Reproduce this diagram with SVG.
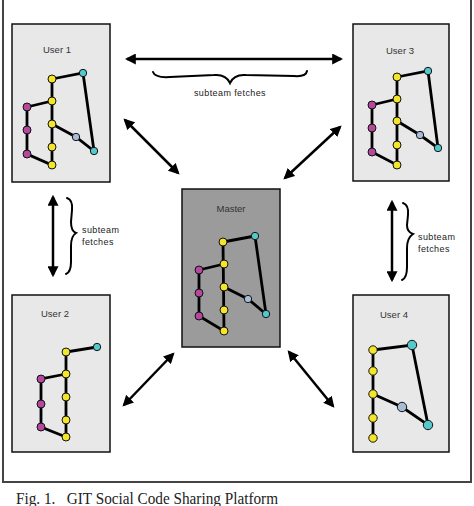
<svg xmlns="http://www.w3.org/2000/svg" width="474" height="506" viewBox="0 0 474 506">
<defs>
<style>
.box{fill:#e8e8e8;stroke:#111;stroke-width:1.5}
.mbox{fill:#9b9b9b;stroke:#111;stroke-width:1.5}
.lbl{font-family:"Liberation Sans",Arial,sans-serif;font-size:9.5px;fill:#333;text-anchor:middle}
.sub{font-family:"Liberation Sans",Arial,sans-serif;font-size:9px;fill:#222;letter-spacing:0.4px}
.e{stroke:#000;stroke-width:2.8;fill:none}
.y{fill:#f5e52a;stroke:#111;stroke-width:1}
.m{fill:#b5489c;stroke:#111;stroke-width:1}
.c{fill:#55c8cc;stroke:#111;stroke-width:1}
.b{fill:#a7bcd6;stroke:#111;stroke-width:1}
.arr{stroke:#000;stroke-width:2.5;fill:none;marker-start:url(#ah);marker-end:url(#ah)}
.brace{stroke:#000;stroke-width:2;fill:none;stroke-linecap:round}
</style>
<marker id="ah" viewBox="0 0 10 10" refX="8" refY="5" markerWidth="11" markerHeight="11" markerUnits="userSpaceOnUse" orient="auto-start-reverse">
<path d="M0,0 L10,5 L0,10 z" fill="#000"/>
</marker>
</defs>
<rect x="0" y="0" width="474" height="506" fill="#fff"/>
<rect x="3" y="-2" width="468" height="484" fill="#fff" stroke="#444" stroke-width="2"/>

<g id="connectors">
<line class="arr" x1="127" y1="59" x2="341" y2="59"/>
<line class="arr" x1="125" y1="120" x2="178" y2="173"/>
<line class="arr" x1="340" y1="127" x2="285" y2="178"/>
<line class="arr" x1="173" y1="354" x2="124" y2="405"/>
<line class="arr" x1="289" y1="352" x2="333" y2="406"/>
<line class="arr" x1="53" y1="197" x2="53" y2="275"/>
<line class="arr" x1="392" y1="202" x2="392" y2="280"/>
<path class="brace" d="M153,72 Q155,78 170,77 L214,75 Q226,74 230,83 Q234,74 246,75 L294,76 Q306,77 307,71"/>
<path class="brace" d="M67,198 Q73,200 72,210 L71,222 Q71,231 76,233 Q71,236 71,246 L71,262 Q71,272 66,274"/>
<path class="brace" d="M403,203 Q409,205 408,215 L407,225 Q407,232 413,234 Q407,238 407,248 L407,267 Q407,278 402,280"/>
<text class="sub" x="230" y="96" text-anchor="middle">subteam fetches</text>
<text class="sub" x="82" y="233">subteam</text>
<text class="sub" x="82" y="245">fetches</text>
<text class="sub" x="418" y="240">subteam</text>
<text class="sub" x="418" y="252">fetches</text>
</g>

<g id="user1">
<rect class="box" x="12" y="24" width="98" height="158"/>
<text class="lbl" x="57" y="53">User 1</text>
<path class="e" d="M52,79 L83,73 L94,151 L76,137 L52,124 M52,79 L52,165 L27,154 L27,107 L52,101"/>
<circle class="y" cx="52" cy="79" r="4"/><circle class="c" cx="83" cy="73" r="3.7"/>
<circle class="y" cx="52" cy="101" r="4"/><circle class="m" cx="27" cy="107" r="4"/>
<circle class="y" cx="52" cy="124" r="4"/><circle class="b" cx="76" cy="137" r="3.7"/>
<circle class="m" cx="27" cy="130" r="4"/><circle class="y" cx="52" cy="147" r="4"/>
<circle class="c" cx="94" cy="151" r="3.7"/><circle class="m" cx="27" cy="154" r="4"/>
<circle class="y" cx="52" cy="165" r="4"/>
</g>

<g id="user3">
<rect class="box" x="353" y="24" width="96" height="157"/>
<text class="lbl" x="400" y="54">User 3</text>
<path class="e" d="M397,77 L428,71 L438,148 L420,135 L397,121 M397,77 L397,165 L372,152 L372,105 L397,99"/>
<circle class="y" cx="397" cy="77" r="4"/><circle class="c" cx="428" cy="71" r="3.7"/>
<circle class="y" cx="397" cy="99" r="4"/><circle class="m" cx="372" cy="105" r="4"/>
<circle class="y" cx="397" cy="121" r="4"/><circle class="b" cx="420" cy="135" r="3.7"/>
<circle class="m" cx="372" cy="128" r="4"/><circle class="y" cx="397" cy="145" r="4"/>
<circle class="c" cx="438" cy="148" r="3.7"/><circle class="m" cx="372" cy="152" r="4"/>
<circle class="y" cx="397" cy="165" r="4"/>
</g>

<g id="master">
<rect class="mbox" x="182" y="189" width="98" height="158"/>
<text class="lbl" x="231" y="212">Master</text>
<path class="e" d="M223,242 L255,236 L266,314 L248,299 L224,287 M223,242 L224,331 L199,316 L199,270 L224,264"/>
<circle class="y" cx="223" cy="242" r="4"/><circle class="c" cx="255" cy="236" r="3.7"/>
<circle class="y" cx="224" cy="264" r="4"/><circle class="m" cx="199" cy="270" r="4"/>
<circle class="y" cx="224" cy="287" r="4"/><circle class="b" cx="248" cy="299" r="3.7"/>
<circle class="m" cx="199" cy="293" r="4"/><circle class="y" cx="224" cy="310" r="4"/>
<circle class="c" cx="266" cy="314" r="3.7"/><circle class="m" cx="199" cy="316" r="4"/>
<circle class="y" cx="224" cy="331" r="4"/>
</g>

<g id="user2">
<rect class="box" x="12" y="295" width="98" height="157"/>
<text class="lbl" x="55" y="317">User 2</text>
<path class="e" d="M97,347 L66,352 L66,437 L41,427 L41,379 L66,374"/>
<circle class="y" cx="66" cy="352" r="4"/><circle class="c" cx="97" cy="347" r="3.7"/>
<circle class="y" cx="66" cy="374" r="4"/><circle class="m" cx="41" cy="379" r="4"/>
<circle class="y" cx="66" cy="397" r="4"/><circle class="m" cx="41" cy="404" r="4"/>
<circle class="y" cx="66" cy="420" r="4"/><circle class="m" cx="41" cy="427" r="4"/>
<circle class="y" cx="66" cy="437" r="4"/>
</g>

<g id="user4">
<rect class="box" x="353" y="295" width="96" height="157"/>
<text class="lbl" x="394" y="318">User 4</text>
<path class="e" d="M373,350 L412,345 L428,425 L402,407 L373,394 M373,350 L373,438"/>
<circle class="y" cx="373" cy="350" r="4.2"/><circle class="c" cx="412" cy="345" r="4.7"/>
<circle class="y" cx="373" cy="371" r="4.2"/><circle class="y" cx="373" cy="394" r="4.2"/>
<circle class="b" cx="402" cy="407" r="4.7"/><circle class="y" cx="373" cy="418" r="4.2"/>
<circle class="c" cx="428" cy="425" r="4.7"/><circle class="y" cx="373" cy="438" r="4.2"/>
</g>

<text x="16" y="504" xml:space="preserve" font-family="'Liberation Serif','Times New Roman',serif" font-size="16" fill="#222" textLength="262" lengthAdjust="spacingAndGlyphs">Fig. 1.   GIT Social Code Sharing Platform</text>
</svg>
